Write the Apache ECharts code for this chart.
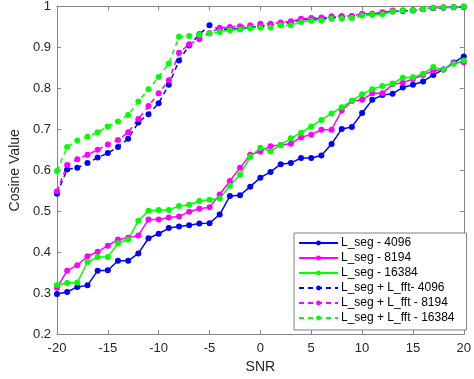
<!DOCTYPE html>
<html>
<head>
<meta charset="utf-8">
<script src="https://cdn.jsdelivr.net/npm/echarts@6/dist/echarts.min.js"></script>
<style>
html,body{margin:0;padding:0;background:#fff;}
#chart{width:474px;height:379px;}
</style>
</head>
<body>
<div id="chart"></div>
<script>
const snr = [-20,-19,-18,-17,-16,-15,-14,-13,-12,-11,-10,-9,-8,-7,-6,-5,-4,-3,-2,-1,0,1,2,3,4,5,6,7,8,9,10,11,12,13,14,15,16,17,18,19,20];
const seg4096 = [0.298,0.303,0.315,0.319,0.355,0.356,0.379,0.379,0.397,0.434,0.445,0.459,0.463,0.466,0.470,0.471,0.492,0.537,0.539,0.560,0.582,
  0.596,0.615,0.618,0.630,0.630,0.636,0.664,0.701,0.706,0.740,0.772,0.784,0.787,0.802,0.809,0.817,0.833,0.846,0.863,0.878];
const seg8194 = [0.313,0.355,0.368,0.390,0.401,0.416,0.431,0.435,0.441,0.480,0.480,0.485,0.487,0.499,0.506,0.510,0.541,0.574,0.606,0.638,0.646,
  0.659,0.662,0.665,0.681,0.687,0.699,0.699,0.746,0.769,0.772,0.788,0.788,0.810,0.814,0.823,0.833,0.843,0.846,0.862,0.864];
const seg16384 = [0.320,0.325,0.326,0.376,0.388,0.388,0.422,0.431,0.477,0.501,0.503,0.503,0.513,0.516,0.525,0.528,0.531,0.562,0.589,0.633,0.655,
  0.646,0.662,0.678,0.692,0.707,0.723,0.739,0.754,0.770,0.786,0.798,0.806,0.812,0.826,0.827,0.836,0.852,0.846,0.860,0.868];
const fft4096 = [0.543,0.602,0.606,0.618,0.631,0.642,0.657,0.677,0.717,0.737,0.764,0.809,0.868,0.905,0.932,0.954,0.944,0.945,0.946,0.949,0.952,
  0.955,0.958,0.961,0.967,0.969,0.971,0.973,0.974,0.976,0.980,0.981,0.985,0.988,0.989,0.990,0.993,0.996,0.997,0.998,0.999];
const fft8194 = [0.549,0.613,0.627,0.638,0.650,0.663,0.674,0.693,0.725,0.757,0.788,0.820,0.887,0.908,0.920,0.935,0.948,0.950,0.952,0.954,0.958,
  0.958,0.961,0.964,0.970,0.972,0.973,0.976,0.977,0.977,0.982,0.982,0.986,0.990,0.990,0.991,0.994,0.997,0.998,0.998,1.0];
const fft16384 = [0.598,0.657,0.673,0.682,0.693,0.707,0.719,0.735,0.768,0.798,0.828,0.861,0.926,0.928,0.931,0.934,0.938,0.942,0.944,0.947,0.948,
  0.949,0.954,0.954,0.962,0.965,0.966,0.970,0.970,0.972,0.978,0.980,0.981,0.988,0.990,0.991,0.994,0.997,0.998,0.998,1.0];

const names = ['L_seg - 4096','L_seg - 8194','L_seg - 16384','L_seg + L_fft- 4096','L_seg + L_fft - 8194','L_seg + L_fft - 16384'];
const values = [seg4096, seg8194, seg16384, fft4096, fft8194, fft16384];
const colors = ['#0000ff','#ff00ff','#00ff00','#0000ff','#ff00ff','#00ff00'];
const dashed = [false,false,false,true,true,true];

const font = '"Liberation Sans", Arial, sans-serif';
const axisCol = '#858585';
const textCol = '#262626';

const series = names.map((n,i)=>({
  name: n,
  type: 'line',
  data: snr.map((x,j)=>[x, values[i][j]]),
  symbol: 'circle',
  symbolSize: 6,
  clip: false,
  color: colors[i],
  itemStyle: {color: colors[i]},
  lineStyle: {color: colors[i], width: 1.5, type: dashed[i] ? [5,4] : 'solid'},
  emphasis: {disabled: true},
  animation: false
}));

const chart = echarts.init(document.getElementById('chart'), null, {renderer: 'canvas'});
chart.setOption({
  backgroundColor: '#fff',
  animation: false,
  grid: {left: 42, right: 8, top: 5, bottom: 40},
  xAxis: [{
    type: 'value', min: -20, max: 20, interval: 5,
    name: 'SNR', nameLocation: 'middle', nameGap: 22,
    nameTextStyle: {fontFamily: font, fontSize: 14, color: textCol},
    axisLine: {show: true, onZero: false, lineStyle: {color: axisCol, width: 1}},
    axisTick: {show: true, inside: true, length: 4, lineStyle: {color: axisCol}},
    axisLabel: {fontFamily: font, fontSize: 13, color: textCol, margin: 8},
    splitLine: {show: false}
  },{
    type: 'value', min: -20, max: 20, interval: 5, position: 'top',
    axisLine: {show: true, onZero: false, lineStyle: {color: axisCol, width: 1}},
    axisTick: {show: true, inside: true, length: 4, lineStyle: {color: axisCol}},
    axisLabel: {show: false}, splitLine: {show: false}
  }],
  yAxis: [{
    type: 'value', min: 0.2, max: 1, interval: 0.1,
    name: 'Cosine Value', nameLocation: 'middle', nameGap: 30,
    nameTextStyle: {fontFamily: font, fontSize: 14, color: textCol},
    axisLine: {show: true, onZero: false, lineStyle: {color: axisCol, width: 1}},
    axisTick: {show: true, inside: true, length: 4, lineStyle: {color: axisCol}},
    axisLabel: {fontFamily: font, fontSize: 13, color: textCol, margin: 6,
      formatter: v => String(Math.round(v*10)/10)},
    splitLine: {show: false}
  },{
    type: 'value', min: 0.2, max: 1, interval: 0.1, position: 'right',
    axisLine: {show: true, onZero: false, lineStyle: {color: axisCol, width: 1}},
    axisTick: {show: true, inside: true, length: 4, lineStyle: {color: axisCol}},
    axisLabel: {show: false}, splitLine: {show: false}
  }],
  legend: {
    data: names,
    orient: 'vertical',
    left: 294, top: 233,
    itemWidth: 39, itemHeight: 6, itemGap: 3,
    padding: [4, 12, 6, 4],
    borderColor: '#808080', borderWidth: 1,
    backgroundColor: '#fff',
    textStyle: {fontFamily: font, fontSize: 12, color: '#000', padding: [0,0,0,-2]},
    selectedMode: false
  },
  series: series
});
</script>
</body>
</html>
